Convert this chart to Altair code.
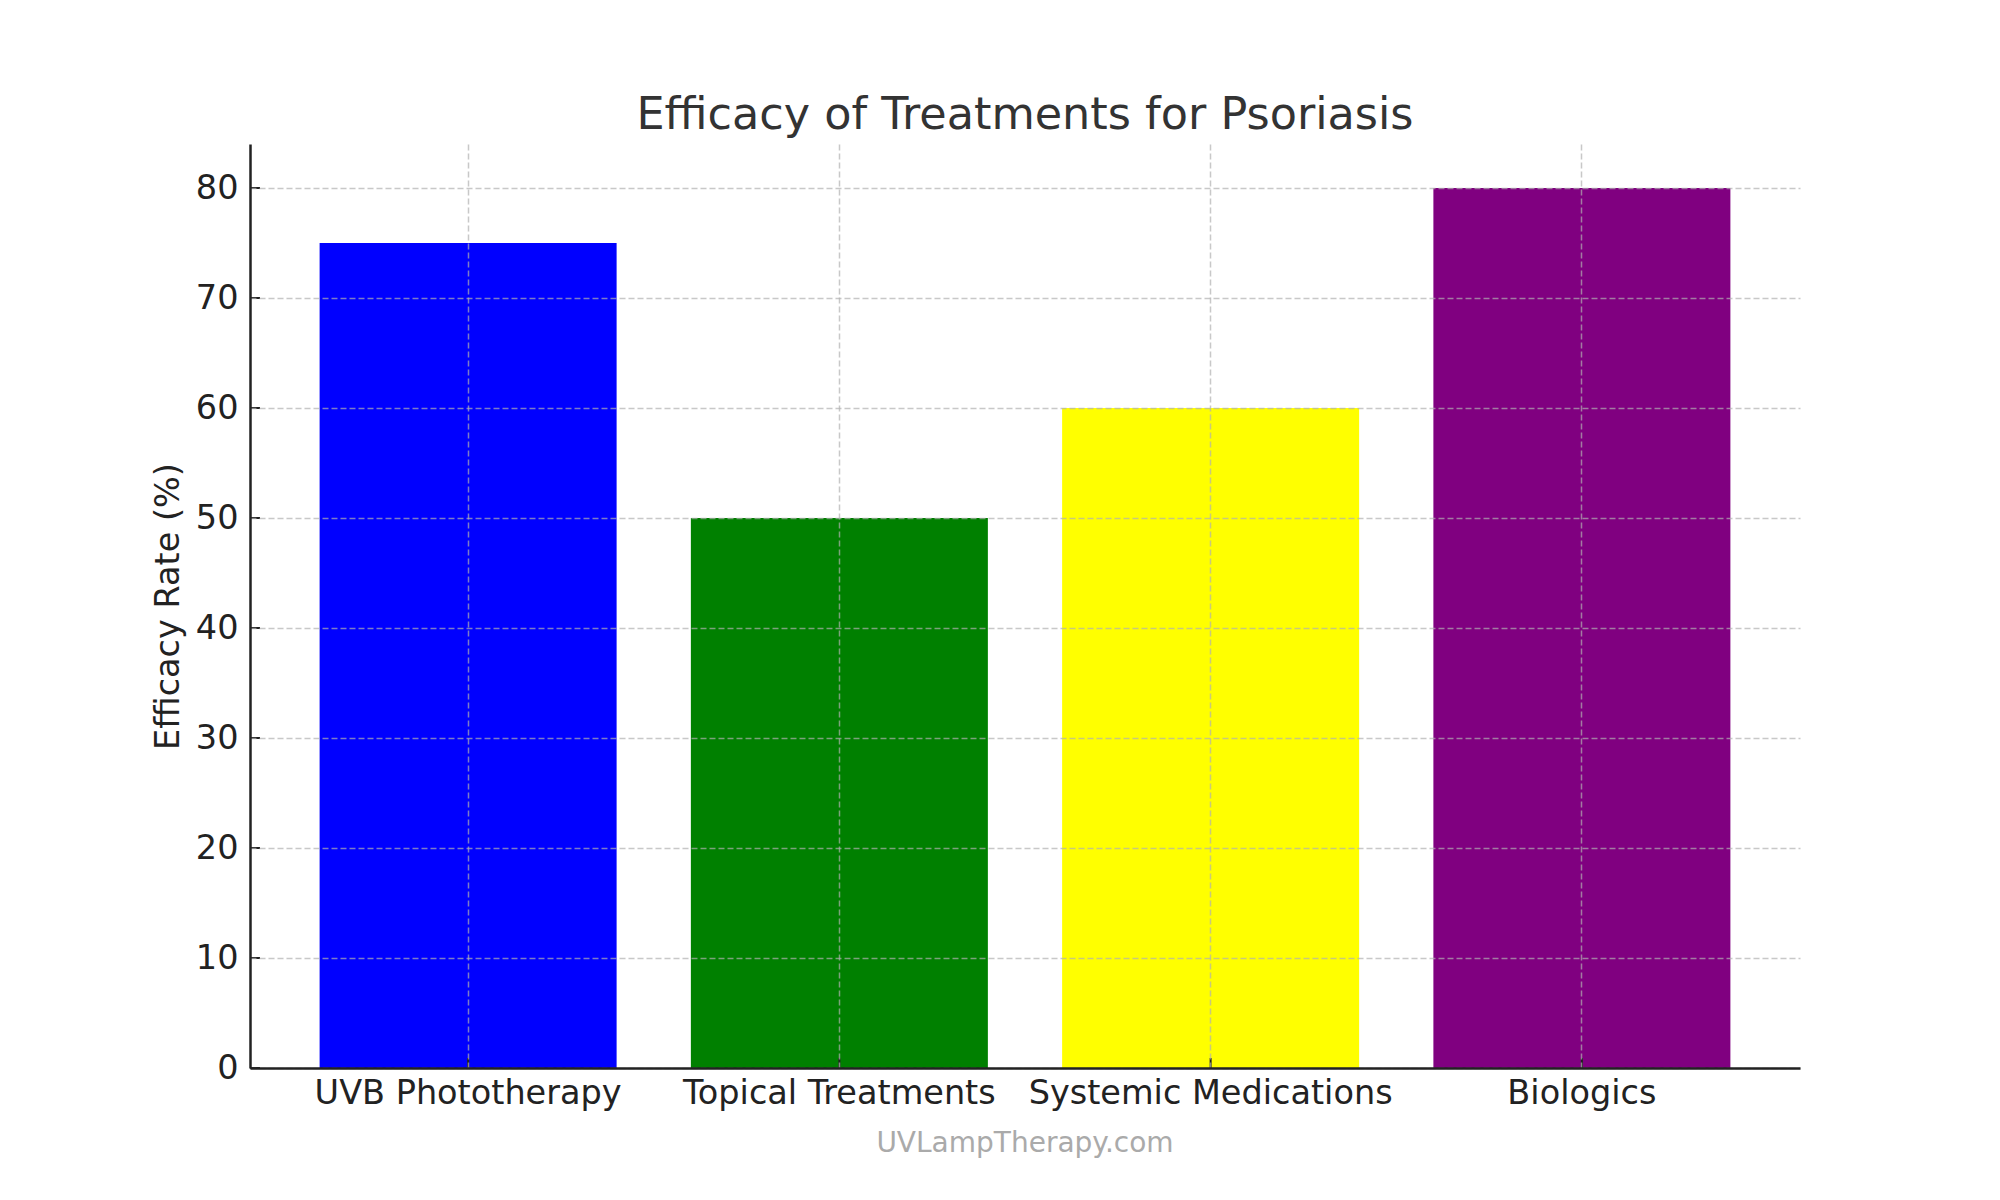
import altair as alt
import pandas as pd

treatments = ["UVB Phototherapy", "Topical Treatments", "Systemic Medications", "Biologics"]
efficacy = [75, 50, 60, 80]
bar_colors = ["#0000ff", "#008000", "#ffff00", "#800080"]
y_ticks = [0, 10, 20, 30, 40, 50, 60, 70, 80]

df = pd.DataFrame({"Treatment": treatments, "Efficacy": efficacy, "Color": bar_colors})
ticks_df = pd.DataFrame({"v": y_ticks})

W, H = 1550, 924
FONT = "DejaVu Sans"

xscale = alt.Scale(type="band", domain=treatments, paddingInner=0.2, paddingOuter=0.1875)
yscale = alt.Scale(domain=[0, 84], nice=False, zero=True)

bars = alt.Chart(df).mark_bar().encode(
    x=alt.X("Treatment:N", scale=xscale, sort=treatments,
            axis=alt.Axis(title=None, labelAngle=0, labelFontSize=33.5, labelColor="#222222",
                          labelFont=FONT, labelPadding=35, labelBaseline="alphabetic",
                          labelLimit=0, labelOverlap=False,
                          ticks=False, domainColor="#222222", domainWidth=2.5,
                          grid=True, gridColor="#b0b0b0", gridOpacity=0.7, gridDash=[6, 3],
                          gridWidth=1.5, zindex=1)),
    y=alt.Y("Efficacy:Q", scale=yscale,
            axis=alt.Axis(title="Efficacy Rate (%)", values=y_ticks, labelFontSize=33.5,
                          labelColor="#222222", labelFont=FONT, labelPadding=12,
                          ticks=False, domainColor="#222222", domainWidth=2.5,
                          titleFontSize=33.5, titleFont=FONT, titleColor="#222222",
                          titleFontWeight="normal", titleAngle=270, titleX=-82, titleY=462,
                          titleAlign="center", titleBaseline="middle",
                          grid=True, gridColor="#b0b0b0", gridOpacity=0.7, gridDash=[6, 3],
                          gridWidth=1.5, zindex=1)),
    color=alt.Color("Color:N", scale=None),
)

ytick_rules = alt.Chart(ticks_df).mark_rule(color="#222222", strokeWidth=2).encode(
    y=alt.Y("v:Q", scale=yscale),
    x=alt.value(0),
    x2=alt.value(10),
)

xtick_rules = alt.Chart(df).mark_rule(color="#222222", strokeWidth=2).encode(
    x=alt.X("Treatment:N", scale=xscale, sort=treatments),
    y=alt.value(H),
    y2=alt.value(H - 10),
)

watermark = alt.Chart(pd.DataFrame({"t": ["UVLampTherapy.com"]})).mark_text(
    fontSize=28, font=FONT, color="#aaaaaa", align="center", baseline="middle"
).encode(
    text="t:N",
    x=alt.value(W / 2),
    y=alt.value(1000),
)

chart = alt.layer(bars, ytick_rules, xtick_rules, watermark).properties(
    width=W,
    height=H,
    background="white",
    padding={"left": 250, "top": 144, "right": 200, "bottom": 132},
    autosize=alt.AutoSizeParams(type="none"),
    title=alt.TitleParams(
        "Efficacy of Treatments for Psoriasis",
        fontSize=44.5, font=FONT, color="#333333", fontWeight="normal",
        anchor="middle", baseline="alphabetic", offset=-29,
    ),
).configure_view(stroke=None, strokeWidth=0)

chart.save("out.html", embed_options={"renderer": "svg", "actions": False})
